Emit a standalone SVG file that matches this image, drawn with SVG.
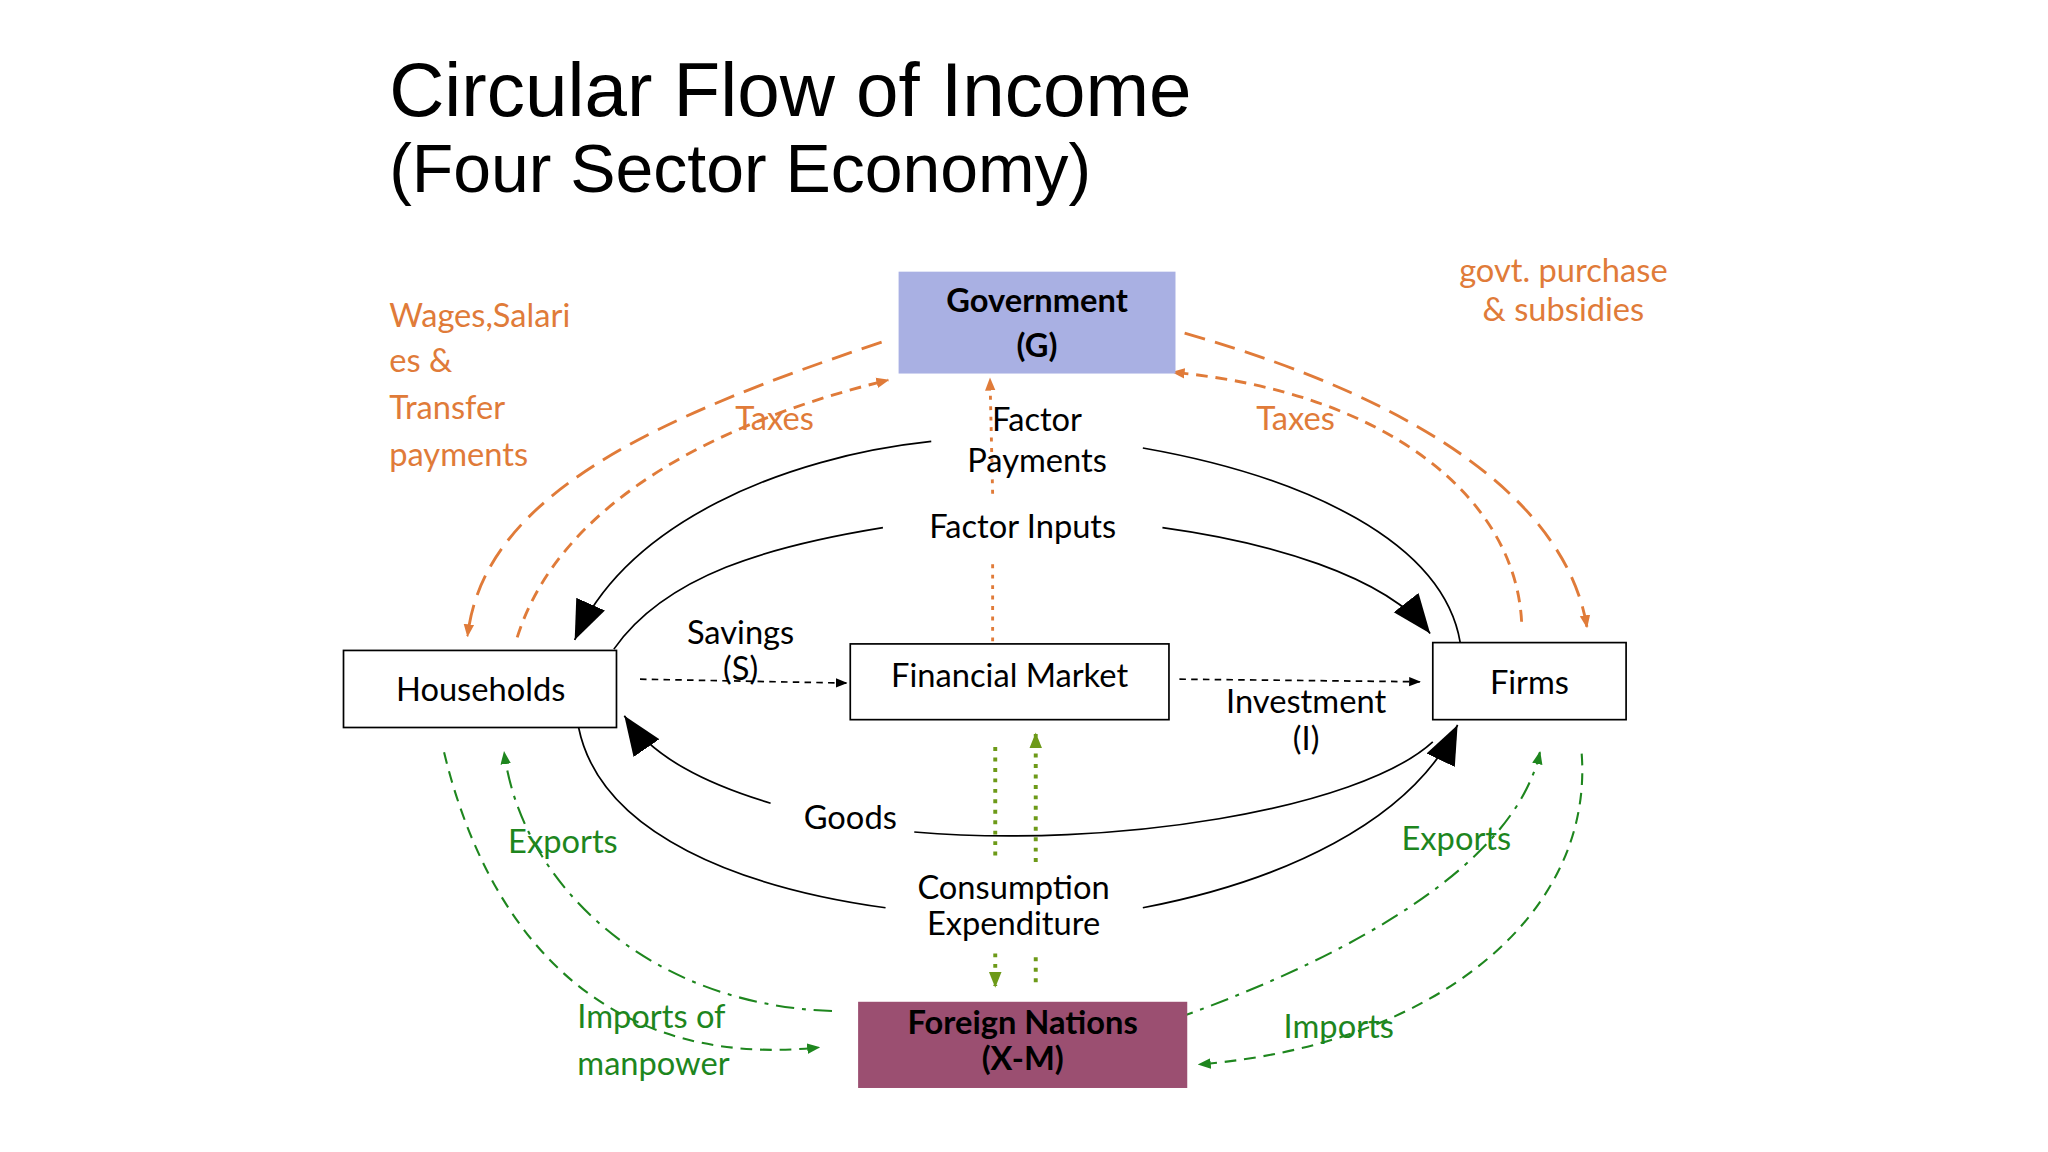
<svg xmlns="http://www.w3.org/2000/svg" width="2048" height="1152" viewBox="0 0 2048 1152">
<defs>
<style>
.t{font-family:"Liberation Sans",Arial,sans-serif;fill:#000}
.l{font-family:Lato,"Open Sans",sans-serif;font-size:25px;fill:#000}
.o{fill:#e07b39}
.g{fill:#1e861e}
.b{font-weight:bold}
.box{stroke:#000;stroke-width:1.3}
.bl{fill:none;stroke:#000;stroke-width:1.3}
.od{fill:none;stroke:#e07b39;stroke-width:2.2}
.gd{fill:none;stroke:#1e861e;stroke-width:1.6}
.ol{fill:none;stroke:#6d9a18;stroke-width:3;stroke-dasharray:3 5}
</style>
<marker id="bigR" markerWidth="30" markerHeight="30" refX="10" refY="5" orient="auto" markerUnits="userSpaceOnUse" viewBox="0 0 10 10"><path d="M0,1L10,5L0,9z" fill="#000"/></marker>
<marker id="sm" markerWidth="9" markerHeight="9" refX="9" refY="5" orient="auto" markerUnits="userSpaceOnUse" viewBox="0 0 10 10"><path d="M0,1L10,5L0,9z" fill="#000"/></marker>
<marker id="oa" markerWidth="10" markerHeight="10" refX="9" refY="5" orient="auto" markerUnits="userSpaceOnUse" viewBox="0 0 10 10"><path d="M0,1L10,5L0,9z" fill="#e07b39"/></marker>
<marker id="ga" markerWidth="10" markerHeight="10" refX="9" refY="5" orient="auto" markerUnits="userSpaceOnUse" viewBox="0 0 10 10"><path d="M0,1L10,5L0,9z" fill="#1e861e"/></marker>
<marker id="la" markerWidth="12" markerHeight="12" refX="9" refY="5" orient="auto" markerUnits="userSpaceOnUse" viewBox="0 0 10 10"><path d="M0,1L10,5L0,9z" fill="#6d9a18"/></marker>
</defs>
<rect width="2048" height="1152" fill="#fff"/>
<g transform="scale(1.3061)">
<g id="title">
<text class="t" x="298" y="89" font-size="58.5">Circular Flow of Income</text>
<text class="t" x="298" y="147" font-size="52">(Four Sector Economy)</text>
</g>
<g id="connectors">
<path class="bl" d="M713,338 C600,350 480,400 440,490" marker-end="url(#bigR)"/>
<path class="bl" d="M875,343 C1000,365 1105,415 1118,492"/>
<path class="bl" d="M470,497 C510,440 590,418 676,404"/>
<path class="bl" d="M890,404 C970,415 1060,440 1095,485" marker-end="url(#bigR)"/>
<path class="bl" d="M1097,568 C1040,620 850,650 700,637"/>
<path class="bl" d="M590,615 C540,600 500,580 478,548" marker-end="url(#bigR)"/>
<path class="bl" d="M443,557 C460,640 570,680 678,695"/>
<path class="bl" d="M875,695 C980,675 1080,630 1116,555" marker-end="url(#bigR)"/>
<path class="bl" d="M490,520 L648,523" stroke-dasharray="5 4" marker-end="url(#sm)"/>
<path class="bl" d="M903,520 L1087,522" stroke-dasharray="5 4" marker-end="url(#sm)"/>
<path class="od" d="M675,262 C500,320 370,380 358,487" stroke-dasharray="16 8" marker-end="url(#oa)"/>
<path class="od" stroke-width="1.4" d="M396,488 C430,380 560,320 680,291" stroke-dasharray="9 6" marker-end="url(#oa)"/>
<path class="od" d="M907,255 C1100,310 1200,390 1215,480" stroke-dasharray="16 8" marker-end="url(#oa)"/>
<path class="od" stroke-width="1.4" d="M1165,476 C1160,380 1060,300 898,285" stroke-dasharray="9 6" marker-end="url(#oa)"/>
<path class="od" stroke-width="2.6" stroke-dasharray="3 5" d="M760,491 L760,432"/>
<path class="od" stroke-width="2.6" stroke-dasharray="3 5" d="M760,378 L758,290" marker-end="url(#oa)"/>
<path class="gd" d="M340,576 C370,700 450,820 627,802" stroke-dasharray="9 6" marker-end="url(#ga)"/>
<path class="gd" stroke-width="2" d="M637,774 C500,770 400,680 386,576" stroke-dasharray="14 6 3 6" marker-end="url(#ga)"/>
<path class="gd" stroke-width="2" d="M900,780 C1040,730 1160,660 1179,576" stroke-dasharray="14 6 3 6" marker-end="url(#ga)"/>
<path class="gd" d="M1211,577 C1220,700 1100,800 918,815" stroke-dasharray="9 6" marker-end="url(#ga)"/>
<path class="ol" d="M762,572 L762,660"/>
<path class="ol" d="M762,730 L762,755" marker-end="url(#la)"/>
<path class="ol" d="M793,752 L793,730"/>
<path class="ol" d="M793,660 L793,562" marker-end="url(#la)"/>
</g>
<g id="government">
<rect x="688" y="208" width="212" height="78" fill="#a9b0e3"/>
<text class="l b" x="794" y="239" font-size="25" text-anchor="middle">Government</text>
<text class="l b" x="794" y="273" font-size="25" text-anchor="middle">(G)</text>
</g>
<g id="households">
<rect class="box" x="263" y="498" width="209" height="59" fill="#fff"/>
<text class="l" x="368" y="537" font-size="31" text-anchor="middle">Households</text>
</g>
<g id="financial">
<rect class="box" x="651" y="493" width="244" height="58" fill="#fff"/>
<text class="l" x="773" y="526" font-size="26" text-anchor="middle">Financial Market</text>
</g>
<g id="firms">
<rect class="box" x="1097" y="492" width="148" height="59" fill="#fff"/>
<text class="l" x="1171" y="531" font-size="31" text-anchor="middle">Firms</text>
</g>
<g id="foreign">
<rect x="657" y="767" width="252" height="66" fill="#9b4f71"/>
<text class="l b" x="783" y="792" text-anchor="middle">Foreign Nations</text>
<text class="l b" x="783" y="819" text-anchor="middle">(X-M)</text>
</g>
<g id="labels">
<text class="l" x="794" y="330" text-anchor="middle">Factor</text>
<text class="l" x="794" y="361" text-anchor="middle">Payments</text>
<text class="l" x="783" y="412" text-anchor="middle">Factor Inputs</text>
<text class="l" x="567" y="493" text-anchor="middle">Savings</text>
<text class="l" x="567" y="521" text-anchor="middle">(S)</text>
<text class="l" x="1000" y="546" text-anchor="middle">Investment</text>
<text class="l" x="1000" y="574" text-anchor="middle">(I)</text>
<text class="l" x="651" y="635" text-anchor="middle">Goods</text>
<text class="l" x="776" y="688" text-anchor="middle">Consumption</text>
<text class="l" x="776" y="716" text-anchor="middle">Expenditure</text>
<text class="l o" x="298" y="250">Wages,Salari</text>
<text class="l o" x="298" y="285">es &amp;</text>
<text class="l o" x="298" y="321">Transfer</text>
<text class="l o" x="298" y="357">payments</text>
<text class="l o" x="593" y="329" text-anchor="middle">Taxes</text>
<text class="l o" x="992" y="329" text-anchor="middle">Taxes</text>
<text class="l o" x="1197" y="216" text-anchor="middle">govt. purchase</text>
<text class="l o" x="1197" y="246" text-anchor="middle">&amp; subsidies</text>
<text class="l g" x="431" y="653" text-anchor="middle">Exports</text>
<text class="l g" x="1115" y="651" text-anchor="middle">Exports</text>
<text class="l g" x="442" y="787">Imports of</text>
<text class="l g" x="442" y="823">manpower</text>
<text class="l g" x="1025" y="795" text-anchor="middle">Imports</text>
</g>
</g>
</svg>
